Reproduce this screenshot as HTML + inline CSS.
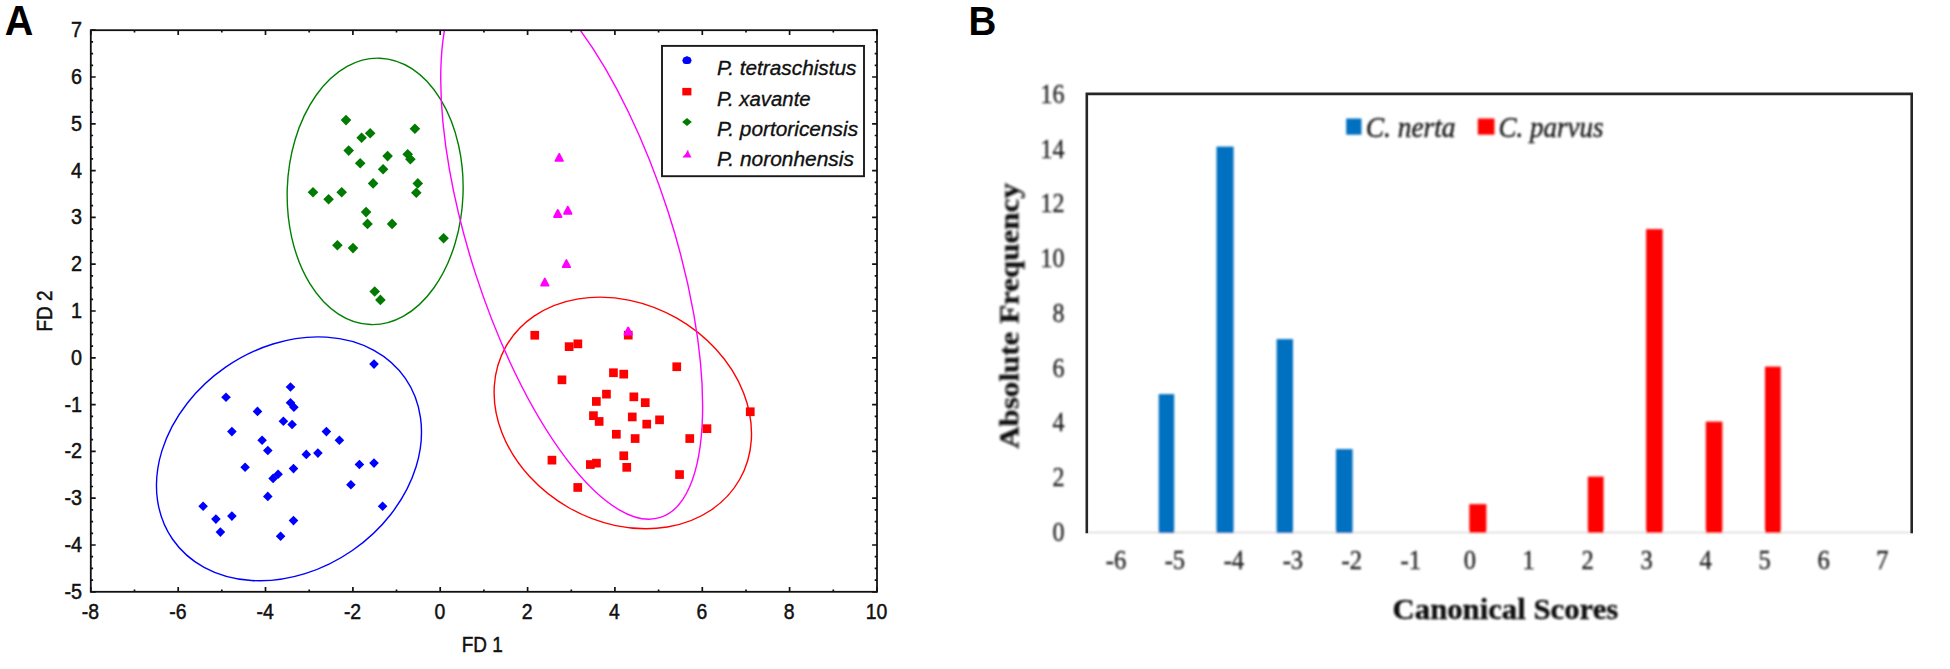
<!DOCTYPE html>
<html><head><meta charset="utf-8"><title>Figure</title>
<style>
html,body{margin:0;padding:0;background:#fff}
svg{display:block}
.sa{font-family:"Liberation Sans",sans-serif}
.se{font-family:"Liberation Serif",serif}
</style></head><body>
<svg width="1950" height="669" viewBox="0 0 1950 669">
<rect width="1950" height="669" fill="#fff"/>
<defs><clipPath id="ca"><rect x="90.8" y="30.2" width="786.2" height="561.5999999999999"/></clipPath>
<filter id="bl" x="-5%" y="-5%" width="110%" height="110%"><feGaussianBlur stdDeviation="0.8"/></filter></defs>

<text class="sa" transform="translate(4.8 35) scale(0.99 1.04)" font-size="40" text-anchor="start" fill="#000" font-weight="bold">A</text>
<text class="sa" transform="translate(968.6 35) scale(0.965 1.005)" font-size="40" text-anchor="start" fill="#000" font-weight="bold">B</text>
<g id="panelA">
<g clip-path="url(#ca)" fill="none" stroke-width="1.4">
<ellipse cx="288.98" cy="458.82" rx="141.48" ry="111.41" transform="rotate(145.36 288.98 458.82)" stroke="#0000ff"/>
<ellipse cx="375.15" cy="191.38" rx="87.93" ry="133.26" transform="rotate(-177.99 375.15 191.38)" stroke="#008000"/>
<ellipse cx="622.81" cy="412.97" rx="134.46" ry="109.08" transform="rotate(-150.33 622.81 412.97)" stroke="#ff0000"/>
<ellipse cx="571.68" cy="242.34" rx="101.17" ry="289.08" transform="rotate(162.12 571.68 242.34)" stroke="#ff00ff"/>
</g>
<path d="M340.7 120.1L346.0 114.8L351.3 120.1L346.0 125.4Z" fill="#007a00"/>
<path d="M409.6 128.7L414.9 123.4L420.2 128.7L414.9 134.0Z" fill="#007a00"/>
<path d="M364.9 133.2L370.2 127.9L375.5 133.2L370.2 138.5Z" fill="#007a00"/>
<path d="M356.3 137.7L361.6 132.4L366.9 137.7L361.6 143.0Z" fill="#007a00"/>
<path d="M343.4 150.6L348.7 145.3L354.0 150.6L348.7 155.9Z" fill="#007a00"/>
<path d="M382.3 156.1L387.6 150.8L392.9 156.1L387.6 161.4Z" fill="#007a00"/>
<path d="M402.4 154.3L407.7 149.0L413.0 154.3L407.7 159.6Z" fill="#007a00"/>
<path d="M405.1 159.2L410.4 153.9L415.7 159.2L410.4 164.5Z" fill="#007a00"/>
<path d="M354.9 163.3L360.2 158.0L365.5 163.3L360.2 168.6Z" fill="#007a00"/>
<path d="M377.8 169.2L383.1 163.9L388.4 169.2L383.1 174.5Z" fill="#007a00"/>
<path d="M367.8 183.4L373.1 178.1L378.4 183.4L373.1 188.7Z" fill="#007a00"/>
<path d="M412.5 183.4L417.8 178.1L423.1 183.4L417.8 188.7Z" fill="#007a00"/>
<path d="M411.0 192.7L416.3 187.4L421.6 192.7L416.3 198.0Z" fill="#007a00"/>
<path d="M307.7 192.2L313.0 186.9L318.3 192.2L313.0 197.5Z" fill="#007a00"/>
<path d="M336.4 192.2L341.7 186.9L347.0 192.2L341.7 197.5Z" fill="#007a00"/>
<path d="M323.3 199.2L328.6 193.9L333.9 199.2L328.6 204.5Z" fill="#007a00"/>
<path d="M360.8 212.1L366.1 206.8L371.4 212.1L366.1 217.4Z" fill="#007a00"/>
<path d="M362.2 223.9L367.5 218.6L372.8 223.9L367.5 229.2Z" fill="#007a00"/>
<path d="M386.8 223.9L392.1 218.6L397.4 223.9L392.1 229.2Z" fill="#007a00"/>
<path d="M438.3 238.2L443.6 232.9L448.9 238.2L443.6 243.5Z" fill="#007a00"/>
<path d="M332.1 245.2L337.4 239.9L342.7 245.2L337.4 250.5Z" fill="#007a00"/>
<path d="M347.7 248.1L353.0 242.8L358.3 248.1L353.0 253.4Z" fill="#007a00"/>
<path d="M369.4 291.5L374.7 286.2L380.0 291.5L374.7 296.8Z" fill="#007a00"/>
<path d="M375.1 299.9L380.4 294.6L385.7 299.9L380.4 305.2Z" fill="#007a00"/>
<path d="M369.2 364.1L374.0 359.3L378.8 364.1L374.0 368.9Z" fill="#0000ff"/>
<path d="M285.7 387.0L290.5 382.2L295.3 387.0L290.5 391.8Z" fill="#0000ff"/>
<path d="M221.2 397.2L226.0 392.4L230.8 397.2L226.0 402.0Z" fill="#0000ff"/>
<path d="M285.7 402.7L290.5 397.9L295.3 402.7L290.5 407.5Z" fill="#0000ff"/>
<path d="M289.1 407.3L293.9 402.5L298.7 407.3L293.9 412.1Z" fill="#0000ff"/>
<path d="M252.7 411.4L257.5 406.6L262.3 411.4L257.5 416.2Z" fill="#0000ff"/>
<path d="M278.6 421.3L283.4 416.5L288.2 421.3L283.4 426.1Z" fill="#0000ff"/>
<path d="M287.3 424.5L292.1 419.7L296.9 424.5L292.1 429.3Z" fill="#0000ff"/>
<path d="M227.1 431.6L231.9 426.8L236.7 431.6L231.9 436.4Z" fill="#0000ff"/>
<path d="M321.6 431.6L326.4 426.8L331.2 431.6L326.4 436.4Z" fill="#0000ff"/>
<path d="M334.6 440.2L339.4 435.4L344.2 440.2L339.4 445.0Z" fill="#0000ff"/>
<path d="M257.3 440.2L262.1 435.4L266.9 440.2L262.1 445.0Z" fill="#0000ff"/>
<path d="M263.0 450.5L267.8 445.7L272.6 450.5L267.8 455.3Z" fill="#0000ff"/>
<path d="M301.5 454.4L306.3 449.6L311.1 454.4L306.3 459.2Z" fill="#0000ff"/>
<path d="M313.1 453.1L317.9 448.3L322.7 453.1L317.9 457.9Z" fill="#0000ff"/>
<path d="M354.6 464.5L359.4 459.7L364.2 464.5L359.4 469.3Z" fill="#0000ff"/>
<path d="M369.2 463.1L374.0 458.3L378.8 463.1L374.0 467.9Z" fill="#0000ff"/>
<path d="M240.3 467.3L245.1 462.5L249.9 467.3L245.1 472.1Z" fill="#0000ff"/>
<path d="M288.7 468.6L293.5 463.8L298.3 468.6L293.5 473.4Z" fill="#0000ff"/>
<path d="M273.3 474.3L278.1 469.5L282.9 474.3L278.1 479.1Z" fill="#0000ff"/>
<path d="M268.3 478.4L273.1 473.6L277.9 478.4L273.1 483.2Z" fill="#0000ff"/>
<path d="M346.1 484.7L350.9 479.9L355.7 484.7L350.9 489.5Z" fill="#0000ff"/>
<path d="M263.0 496.4L267.8 491.6L272.6 496.4L267.8 501.2Z" fill="#0000ff"/>
<path d="M198.3 506.2L203.1 501.4L207.9 506.2L203.1 511.0Z" fill="#0000ff"/>
<path d="M377.8 506.2L382.6 501.4L387.4 506.2L382.6 511.0Z" fill="#0000ff"/>
<path d="M211.1 519.1L215.9 514.3L220.7 519.1L215.9 523.9Z" fill="#0000ff"/>
<path d="M227.1 516.1L231.9 511.3L236.7 516.1L231.9 520.9Z" fill="#0000ff"/>
<path d="M288.7 520.6L293.5 515.8L298.3 520.6L293.5 525.4Z" fill="#0000ff"/>
<path d="M215.6 532.1L220.4 527.3L225.2 532.1L220.4 536.9Z" fill="#0000ff"/>
<path d="M275.8 536.2L280.6 531.4L285.4 536.2L280.6 541.0Z" fill="#0000ff"/>
<rect x="530.4" y="330.9" width="8.7" height="8.7" fill="#ff0000"/>
<rect x="564.8" y="342.3" width="8.7" height="8.7" fill="#ff0000"/>
<rect x="573.5" y="339.5" width="8.7" height="8.7" fill="#ff0000"/>
<rect x="623.9" y="330.8" width="8.7" height="8.7" fill="#ff0000"/>
<rect x="672.4" y="362.4" width="8.7" height="8.7" fill="#ff0000"/>
<rect x="609.1" y="368.4" width="8.7" height="8.7" fill="#ff0000"/>
<rect x="619.4" y="369.8" width="8.7" height="8.7" fill="#ff0000"/>
<rect x="557.6" y="375.5" width="8.7" height="8.7" fill="#ff0000"/>
<rect x="602.1" y="389.8" width="8.7" height="8.7" fill="#ff0000"/>
<rect x="592.0" y="397.1" width="8.7" height="8.7" fill="#ff0000"/>
<rect x="629.5" y="392.5" width="8.7" height="8.7" fill="#ff0000"/>
<rect x="640.9" y="398.3" width="8.7" height="8.7" fill="#ff0000"/>
<rect x="589.1" y="411.3" width="8.7" height="8.7" fill="#ff0000"/>
<rect x="594.8" y="417.1" width="8.7" height="8.7" fill="#ff0000"/>
<rect x="627.9" y="412.6" width="8.7" height="8.7" fill="#ff0000"/>
<rect x="642.4" y="419.8" width="8.7" height="8.7" fill="#ff0000"/>
<rect x="655.2" y="415.5" width="8.7" height="8.7" fill="#ff0000"/>
<rect x="745.9" y="407.4" width="8.7" height="8.7" fill="#ff0000"/>
<rect x="702.6" y="424.3" width="8.7" height="8.7" fill="#ff0000"/>
<rect x="612.0" y="429.9" width="8.7" height="8.7" fill="#ff0000"/>
<rect x="630.8" y="434.2" width="8.7" height="8.7" fill="#ff0000"/>
<rect x="685.4" y="434.2" width="8.7" height="8.7" fill="#ff0000"/>
<rect x="547.6" y="455.8" width="8.7" height="8.7" fill="#ff0000"/>
<rect x="619.4" y="451.4" width="8.7" height="8.7" fill="#ff0000"/>
<rect x="592.1" y="458.8" width="8.7" height="8.7" fill="#ff0000"/>
<rect x="586.0" y="460.2" width="8.7" height="8.7" fill="#ff0000"/>
<rect x="622.4" y="463.0" width="8.7" height="8.7" fill="#ff0000"/>
<rect x="675.2" y="470.2" width="8.7" height="8.7" fill="#ff0000"/>
<rect x="573.4" y="483.1" width="8.7" height="8.7" fill="#ff0000"/>
<path d="M555.5 160.9L559.2 153.9L562.9 160.9Z" fill="#ff00ff" stroke="#ff00ff" stroke-width="1.9" stroke-linejoin="round"/>
<path d="M554.1 217.0L557.8 210.0L561.5 217.0Z" fill="#ff00ff" stroke="#ff00ff" stroke-width="1.9" stroke-linejoin="round"/>
<path d="M564.1 213.8L567.8 206.8L571.5 213.8Z" fill="#ff00ff" stroke="#ff00ff" stroke-width="1.9" stroke-linejoin="round"/>
<path d="M562.7 267.1L566.4 260.1L570.1 267.1Z" fill="#ff00ff" stroke="#ff00ff" stroke-width="1.9" stroke-linejoin="round"/>
<path d="M541.1 285.6L544.8 278.6L548.5 285.6Z" fill="#ff00ff" stroke="#ff00ff" stroke-width="1.9" stroke-linejoin="round"/>
<path d="M624.5 334.5L628.2 327.5L631.9 334.5Z" fill="#ff00ff" stroke="#ff00ff" stroke-width="1.9" stroke-linejoin="round"/>
<rect x="90.8" y="30.2" width="786.2" height="561.5999999999999" fill="none" stroke="#111" stroke-width="1.8"/>
<path d="M90.8 591.8v-4.9M90.8 30.2v4.9M134.5 591.8v-2.3M134.5 30.2v2.3M178.2 591.8v-4.9M178.2 30.2v4.9M221.8 591.8v-2.3M221.8 30.2v2.3M265.5 591.8v-4.9M265.5 30.2v4.9M309.2 591.8v-2.3M309.2 30.2v2.3M352.9 591.8v-4.9M352.9 30.2v4.9M396.5 591.8v-2.3M396.5 30.2v2.3M440.2 591.8v-4.9M440.2 30.2v4.9M483.9 591.8v-2.3M483.9 30.2v2.3M527.6 591.8v-4.9M527.6 30.2v4.9M571.3 591.8v-2.3M571.3 30.2v2.3M614.9 591.8v-4.9M614.9 30.2v4.9M658.6 591.8v-2.3M658.6 30.2v2.3M702.3 591.8v-4.9M702.3 30.2v4.9M746.0 591.8v-2.3M746.0 30.2v2.3M789.6 591.8v-4.9M789.6 30.2v4.9M833.3 591.8v-2.3M833.3 30.2v2.3M877.0 591.8v-4.9M877.0 30.2v4.9M90.8 591.8h4.9M877.0 591.8h-4.9M90.8 580.1h2.3M877.0 580.1h-2.3M90.8 568.4h2.3M877.0 568.4h-2.3M90.8 556.7h2.3M877.0 556.7h-2.3M90.8 545.0h4.9M877.0 545.0h-4.9M90.8 533.3h2.3M877.0 533.3h-2.3M90.8 521.6h2.3M877.0 521.6h-2.3M90.8 509.9h2.3M877.0 509.9h-2.3M90.8 498.2h4.9M877.0 498.2h-4.9M90.8 486.5h2.3M877.0 486.5h-2.3M90.8 474.8h2.3M877.0 474.8h-2.3M90.8 463.1h2.3M877.0 463.1h-2.3M90.8 451.4h4.9M877.0 451.4h-4.9M90.8 439.7h2.3M877.0 439.7h-2.3M90.8 428.0h2.3M877.0 428.0h-2.3M90.8 416.3h2.3M877.0 416.3h-2.3M90.8 404.6h4.9M877.0 404.6h-4.9M90.8 392.9h2.3M877.0 392.9h-2.3M90.8 381.2h2.3M877.0 381.2h-2.3M90.8 369.5h2.3M877.0 369.5h-2.3M90.8 357.8h4.9M877.0 357.8h-4.9M90.8 346.1h2.3M877.0 346.1h-2.3M90.8 334.4h2.3M877.0 334.4h-2.3M90.8 322.7h2.3M877.0 322.7h-2.3M90.8 311.0h4.9M877.0 311.0h-4.9M90.8 299.3h2.3M877.0 299.3h-2.3M90.8 287.6h2.3M877.0 287.6h-2.3M90.8 275.9h2.3M877.0 275.9h-2.3M90.8 264.2h4.9M877.0 264.2h-4.9M90.8 252.5h2.3M877.0 252.5h-2.3M90.8 240.8h2.3M877.0 240.8h-2.3M90.8 229.1h2.3M877.0 229.1h-2.3M90.8 217.4h4.9M877.0 217.4h-4.9M90.8 205.7h2.3M877.0 205.7h-2.3M90.8 194.0h2.3M877.0 194.0h-2.3M90.8 182.3h2.3M877.0 182.3h-2.3M90.8 170.6h4.9M877.0 170.6h-4.9M90.8 158.9h2.3M877.0 158.9h-2.3M90.8 147.2h2.3M877.0 147.2h-2.3M90.8 135.5h2.3M877.0 135.5h-2.3M90.8 123.8h4.9M877.0 123.8h-4.9M90.8 112.1h2.3M877.0 112.1h-2.3M90.8 100.4h2.3M877.0 100.4h-2.3M90.8 88.7h2.3M877.0 88.7h-2.3M90.8 77.0h4.9M877.0 77.0h-4.9M90.8 65.3h2.3M877.0 65.3h-2.3M90.8 53.6h2.3M877.0 53.6h-2.3M90.8 41.9h2.3M877.0 41.9h-2.3M90.8 30.2h4.9M877.0 30.2h-4.9" stroke="#111" stroke-width="1.7" fill="none"/>
<text class="sa" transform="translate(90.4 618.6) scale(0.97 1.07)" font-size="20" text-anchor="middle" fill="#111" stroke="#111" stroke-width="0.45">-8</text>
<text class="sa" transform="translate(177.8 618.6) scale(0.97 1.07)" font-size="20" text-anchor="middle" fill="#111" stroke="#111" stroke-width="0.45">-6</text>
<text class="sa" transform="translate(265.1 618.6) scale(0.97 1.07)" font-size="20" text-anchor="middle" fill="#111" stroke="#111" stroke-width="0.45">-4</text>
<text class="sa" transform="translate(352.5 618.6) scale(0.97 1.07)" font-size="20" text-anchor="middle" fill="#111" stroke="#111" stroke-width="0.45">-2</text>
<text class="sa" transform="translate(439.8 618.6) scale(0.97 1.07)" font-size="20" text-anchor="middle" fill="#111" stroke="#111" stroke-width="0.45">0</text>
<text class="sa" transform="translate(527.2 618.6) scale(0.97 1.07)" font-size="20" text-anchor="middle" fill="#111" stroke="#111" stroke-width="0.45">2</text>
<text class="sa" transform="translate(614.5 618.6) scale(0.97 1.07)" font-size="20" text-anchor="middle" fill="#111" stroke="#111" stroke-width="0.45">4</text>
<text class="sa" transform="translate(701.9 618.6) scale(0.97 1.07)" font-size="20" text-anchor="middle" fill="#111" stroke="#111" stroke-width="0.45">6</text>
<text class="sa" transform="translate(789.2 618.6) scale(0.97 1.07)" font-size="20" text-anchor="middle" fill="#111" stroke="#111" stroke-width="0.45">8</text>
<text class="sa" transform="translate(876.6 618.6) scale(0.97 1.07)" font-size="20" text-anchor="middle" fill="#111" stroke="#111" stroke-width="0.45">10</text>
<text class="sa" transform="translate(82 598.8) scale(0.99 1.07)" font-size="20" text-anchor="end" fill="#111" stroke="#111" stroke-width="0.45">-5</text>
<text class="sa" transform="translate(82 552.0) scale(0.99 1.07)" font-size="20" text-anchor="end" fill="#111" stroke="#111" stroke-width="0.45">-4</text>
<text class="sa" transform="translate(82 505.2) scale(0.99 1.07)" font-size="20" text-anchor="end" fill="#111" stroke="#111" stroke-width="0.45">-3</text>
<text class="sa" transform="translate(82 458.4) scale(0.99 1.07)" font-size="20" text-anchor="end" fill="#111" stroke="#111" stroke-width="0.45">-2</text>
<text class="sa" transform="translate(82 411.6) scale(0.99 1.07)" font-size="20" text-anchor="end" fill="#111" stroke="#111" stroke-width="0.45">-1</text>
<text class="sa" transform="translate(82 364.8) scale(0.99 1.07)" font-size="20" text-anchor="end" fill="#111" stroke="#111" stroke-width="0.45">0</text>
<text class="sa" transform="translate(82 318.0) scale(0.99 1.07)" font-size="20" text-anchor="end" fill="#111" stroke="#111" stroke-width="0.45">1</text>
<text class="sa" transform="translate(82 271.2) scale(0.99 1.07)" font-size="20" text-anchor="end" fill="#111" stroke="#111" stroke-width="0.45">2</text>
<text class="sa" transform="translate(82 224.4) scale(0.99 1.07)" font-size="20" text-anchor="end" fill="#111" stroke="#111" stroke-width="0.45">3</text>
<text class="sa" transform="translate(82 177.6) scale(0.99 1.07)" font-size="20" text-anchor="end" fill="#111" stroke="#111" stroke-width="0.45">4</text>
<text class="sa" transform="translate(82 130.8) scale(0.99 1.07)" font-size="20" text-anchor="end" fill="#111" stroke="#111" stroke-width="0.45">5</text>
<text class="sa" transform="translate(82 84.0) scale(0.99 1.07)" font-size="20" text-anchor="end" fill="#111" stroke="#111" stroke-width="0.45">6</text>
<text class="sa" transform="translate(82 37.2) scale(0.99 1.07)" font-size="20" text-anchor="end" fill="#111" stroke="#111" stroke-width="0.45">7</text>
<text class="sa" transform="translate(482.3 651.7) scale(0.95 1.08)" font-size="20" text-anchor="middle" fill="#111" stroke="#111" stroke-width="0.45">FD 1</text>
<text class="sa" transform="translate(52.2 311) rotate(-90) scale(0.95 1.08)" font-size="20" text-anchor="middle" fill="#111" stroke="#111" stroke-width="0.45">FD 2</text>
<rect x="662" y="45.9" width="202" height="130.3" fill="#fff" stroke="#1a1a1a" stroke-width="1.9"/>
<path d="M682.2 60.6L683.6 57.6L686.2 56.5L687 56.1L687.8 56.5L690.4 57.6L691.7 60.6L690.3 63.6L688 64.1L685.8 64.1L683.5 63.6Z" fill="#0000ff"/>
<rect x="682.3" y="87.9" width="9.1" height="7.5" fill="#ff0000"/>
<path d="M682.1 122L687 118L691.8 122L687 126Z" fill="#007a00"/>
<path d="M682.3 157.5L685.5 154L688 149.4L688.8 152.5L691.5 157.5Z" fill="#ff00ff"/>
<text class="sa" transform="translate(717.0 75.2)" font-size="20.8" text-anchor="start" fill="#111" stroke="#111" stroke-width="0.35" font-style="italic">P. tetraschistus</text>
<text class="sa" transform="translate(717.0 105.6) scale(0.98 1)" font-size="20.8" text-anchor="start" fill="#111" stroke="#111" stroke-width="0.35" font-style="italic">P. xavante</text>
<text class="sa" transform="translate(717.0 136.0) scale(1.003 1)" font-size="20.8" text-anchor="start" fill="#111" stroke="#111" stroke-width="0.35" font-style="italic">P. portoricensis</text>
<text class="sa" transform="translate(717.0 166.4) scale(1.007 1)" font-size="20.8" text-anchor="start" fill="#111" stroke="#111" stroke-width="0.35" font-style="italic">P. noronhensis</text>
</g>
<g id="panelB" filter="url(#bl)">
<path d="M1087.0 532.5H1912.5" stroke="#d9d9d9" stroke-width="1.6" fill="none"/>
<rect x="1158.7" y="394.1" width="15.5" height="138.9" fill="#0070c0"/>
<rect x="1216.5" y="146.6" width="17.1" height="386.4" fill="#0070c0"/>
<rect x="1276.6" y="339.1" width="16.4" height="193.9" fill="#0070c0"/>
<rect x="1336.0" y="449.1" width="16.6" height="83.9" fill="#0070c0"/>
<rect x="1469.3" y="504.1" width="17.1" height="28.9" fill="#ff0000"/>
<rect x="1587.8" y="476.6" width="15.8" height="56.4" fill="#ff0000"/>
<rect x="1646.1" y="229.1" width="16.6" height="303.9" fill="#ff0000"/>
<rect x="1705.8" y="421.6" width="16.6" height="111.4" fill="#ff0000"/>
<rect x="1765.0" y="366.6" width="15.8" height="166.4" fill="#ff0000"/>
<text class="se" transform="translate(1116.0 569.2) scale(0.91 1.03)" font-size="27" text-anchor="middle" fill="#222" stroke="#222" stroke-width="0.35">-6</text>
<text class="se" transform="translate(1174.9 569.2) scale(0.91 1.03)" font-size="27" text-anchor="middle" fill="#222" stroke="#222" stroke-width="0.35">-5</text>
<text class="se" transform="translate(1233.9 569.2) scale(0.91 1.03)" font-size="27" text-anchor="middle" fill="#222" stroke="#222" stroke-width="0.35">-4</text>
<text class="se" transform="translate(1292.9 569.2) scale(0.91 1.03)" font-size="27" text-anchor="middle" fill="#222" stroke="#222" stroke-width="0.35">-3</text>
<text class="se" transform="translate(1351.8 569.2) scale(0.91 1.03)" font-size="27" text-anchor="middle" fill="#222" stroke="#222" stroke-width="0.35">-2</text>
<text class="se" transform="translate(1410.8 569.2) scale(0.91 1.03)" font-size="27" text-anchor="middle" fill="#222" stroke="#222" stroke-width="0.35">-1</text>
<text class="se" transform="translate(1469.8 569.2) scale(0.91 1.03)" font-size="27" text-anchor="middle" fill="#222" stroke="#222" stroke-width="0.35">0</text>
<text class="se" transform="translate(1528.7 569.2) scale(0.91 1.03)" font-size="27" text-anchor="middle" fill="#222" stroke="#222" stroke-width="0.35">1</text>
<text class="se" transform="translate(1587.7 569.2) scale(0.91 1.03)" font-size="27" text-anchor="middle" fill="#222" stroke="#222" stroke-width="0.35">2</text>
<text class="se" transform="translate(1646.7 569.2) scale(0.91 1.03)" font-size="27" text-anchor="middle" fill="#222" stroke="#222" stroke-width="0.35">3</text>
<text class="se" transform="translate(1705.6 569.2) scale(0.91 1.03)" font-size="27" text-anchor="middle" fill="#222" stroke="#222" stroke-width="0.35">4</text>
<text class="se" transform="translate(1764.6 569.2) scale(0.91 1.03)" font-size="27" text-anchor="middle" fill="#222" stroke="#222" stroke-width="0.35">5</text>
<text class="se" transform="translate(1823.6 569.2) scale(0.91 1.03)" font-size="27" text-anchor="middle" fill="#222" stroke="#222" stroke-width="0.35">6</text>
<text class="se" transform="translate(1882.5 569.2) scale(0.91 1.03)" font-size="27" text-anchor="middle" fill="#222" stroke="#222" stroke-width="0.35">7</text>
<text class="se" transform="translate(1064.6 540.5) scale(0.89 1.03)" font-size="27" text-anchor="end" fill="#222" stroke="#222" stroke-width="0.35">0</text>
<text class="se" transform="translate(1064.6 485.8) scale(0.89 1.03)" font-size="27" text-anchor="end" fill="#222" stroke="#222" stroke-width="0.35">2</text>
<text class="se" transform="translate(1064.6 431.1) scale(0.89 1.03)" font-size="27" text-anchor="end" fill="#222" stroke="#222" stroke-width="0.35">4</text>
<text class="se" transform="translate(1064.6 376.5) scale(0.89 1.03)" font-size="27" text-anchor="end" fill="#222" stroke="#222" stroke-width="0.35">6</text>
<text class="se" transform="translate(1064.6 321.8) scale(0.89 1.03)" font-size="27" text-anchor="end" fill="#222" stroke="#222" stroke-width="0.35">8</text>
<text class="se" transform="translate(1064.6 267.1) scale(0.89 1.03)" font-size="27" text-anchor="end" fill="#222" stroke="#222" stroke-width="0.35">10</text>
<text class="se" transform="translate(1064.6 212.4) scale(0.89 1.03)" font-size="27" text-anchor="end" fill="#222" stroke="#222" stroke-width="0.35">12</text>
<text class="se" transform="translate(1064.6 157.7) scale(0.89 1.03)" font-size="27" text-anchor="end" fill="#222" stroke="#222" stroke-width="0.35">14</text>
<text class="se" transform="translate(1064.6 103.1) scale(0.89 1.03)" font-size="27" text-anchor="end" fill="#222" stroke="#222" stroke-width="0.35">16</text>
<text class="se" transform="translate(1505.4 619.0) scale(1.025 0.985)" font-size="30" text-anchor="middle" fill="#111" stroke="#111" stroke-width="0.35" font-weight="bold">Canonical Scores</text>
<text class="se" transform="translate(1018.8 316) rotate(-90) scale(1.035 0.94)" font-size="30" text-anchor="middle" fill="#111" stroke="#111" stroke-width="0.35" font-weight="bold">Absolute Frequency</text>
<rect x="1346.2" y="118.5" width="15.3" height="16.2" fill="#0070c0"/>
<rect x="1477.8" y="118.5" width="16.7" height="16.2" fill="#ff0000"/>
<text class="se" transform="translate(1365.8 137.4) scale(1.015 1.06)" font-size="27" text-anchor="start" fill="#1e1e1e" stroke="#1e1e1e" stroke-width="0.45" font-style="italic">C. nerta</text>
<text class="se" transform="translate(1498.6 137.4) scale(1.0 1.06)" font-size="27" text-anchor="start" fill="#1e1e1e" stroke="#1e1e1e" stroke-width="0.45" font-style="italic">C. parvus</text>
</g>
<path d="M1086.8 533.3V93.9H1911.7V533.3" stroke="#262626" stroke-width="2.6" fill="none"/>
</svg></body></html>
